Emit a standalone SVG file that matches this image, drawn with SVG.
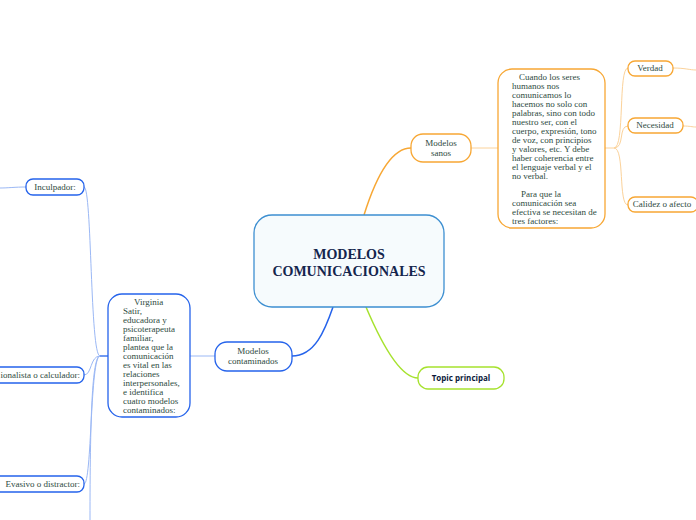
<svg xmlns="http://www.w3.org/2000/svg" width="696" height="520" viewBox="0 0 696 520">
<style>
text{font-family:"Liberation Serif",serif;font-size:9px;fill:#2d4a3e}
.o{fill:#fff;stroke:#f7a734;stroke-width:1.3}
.b{fill:#fff;stroke:#2563eb;stroke-width:1.3}
.lo{fill:none;stroke:#fbd29a;stroke-width:1}
.lb{fill:none;stroke:#9bb8f5;stroke-width:1}
</style>
<rect width="696" height="520" fill="#fff"/>
<g id="connectors">
<path d="M364,215 C375,180 390,148 411,148" fill="none" stroke="#f7a734" stroke-width="1.5"/>
<path d="M333,307 C325,330 315,356 292,356" fill="none" stroke="#2563eb" stroke-width="1.5"/>
<path d="M366,307 C380,340 400,378 418,378" fill="none" stroke="#a6e22e" stroke-width="1.5"/>
<path class="lo" d="M471,148 L498,148"/>
<path class="lo" d="M605,148 L614,148 C625,148 618,68 628,68"/>
<path class="lo" d="M614,148 C625,148 618,126 628,126"/>
<path class="lo" d="M614,148 C625,148 618,205 628,205"/>
<path class="lo" d="M673,68 C685,68 690,70 696,70"/>
<path class="lo" d="M683,126 C690,126 692,127 696,127"/>
<path class="lb" d="M215,356 L190,356"/>
<path class="b" style="fill:none" d="M108,356 L100,356"/>
<path class="lb" d="M100,356 C90,356 92,187 84,187"/>
<path class="lb" d="M100,356 C90,356 92,375 84,375"/>
<path class="lb" d="M100,356 C90,356 92,484 84,484"/>
<path class="lb" d="M100,356 C92,356 90,420 90,520"/>
<path class="lb" d="M26,187 C15,187 8,188 0,188"/>
</g>
<g id="central">
<rect x="254" y="215" width="190" height="92" rx="18" fill="#f6fbfd" stroke="#3d8fd1" stroke-width="1.3"/>
<text x="349" y="259" text-anchor="middle" style="font-size:14px;font-weight:bold;fill:#14254d">MODELOS</text>
<text x="349" y="276" text-anchor="middle" style="font-size:14px;font-weight:bold;fill:#14254d">COMUNICACIONALES</text>
</g>
<g id="sanos">
<rect class="o" x="411" y="134" width="60" height="28" rx="12"/>
<text x="441" y="146" text-anchor="middle">Modelos</text>
<text x="441" y="156" text-anchor="middle">sanos</text>
</g>
<g id="sanos-text">
<rect class="o" x="498" y="69" width="107" height="159" rx="14"/>
<text x="512" y="80">
<tspan x="519">Cuando los seres</tspan>
<tspan x="512" dy="9">humanos nos</tspan>
<tspan x="512" dy="9">comunicamos lo</tspan>
<tspan x="512" dy="9">hacemos no solo con</tspan>
<tspan x="512" dy="9">palabras, sino con todo</tspan>
<tspan x="512" dy="9">nuestro ser, con el</tspan>
<tspan x="512" dy="9">cuerpo, expresión, tono</tspan>
<tspan x="512" dy="9">de voz, con principios</tspan>
<tspan x="512" dy="9">y valores, etc. Y debe</tspan>
<tspan x="512" dy="9">haber coherencia entre</tspan>
<tspan x="512" dy="9">el lenguaje verbal y el</tspan>
<tspan x="512" dy="9">no verbal.</tspan>
<tspan x="521" dy="18">Para que la</tspan>
<tspan x="512" dy="9">comunicación sea</tspan>
<tspan x="512" dy="9">efectiva se necesitan de</tspan>
<tspan x="512" dy="9">tres factores:</tspan>
</text>
</g>
<g id="verdad"><rect class="o" x="628" y="61" width="45" height="15" rx="7"/><text x="650" y="71" text-anchor="middle">Verdad</text></g>
<g id="necesidad"><rect class="o" x="628" y="118" width="55" height="15" rx="7"/><text x="655" y="128" text-anchor="middle">Necesidad</text></g>
<g id="calidez"><rect class="o" x="628" y="197" width="70" height="15" rx="7"/><text x="662" y="207" text-anchor="middle">Calidez o afecto</text></g>
<g id="contaminados">
<rect class="b" x="215" y="342" width="77" height="29" rx="12"/>
<text x="253" y="354" text-anchor="middle">Modelos</text>
<text x="253" y="364" text-anchor="middle">contaminados</text>
</g>
<g id="virginia">
<rect class="b" x="108" y="294" width="82" height="123" rx="14"/>
<text x="123" y="305">
<tspan x="134">Virginia</tspan>
<tspan x="123" dy="9">Satir,</tspan>
<tspan x="123" dy="9">educadora y</tspan>
<tspan x="123" dy="9">psicoterapeuta</tspan>
<tspan x="123" dy="9">familiar,</tspan>
<tspan x="123" dy="9">plantea que la</tspan>
<tspan x="123" dy="9">comunicación</tspan>
<tspan x="123" dy="9">es vital en las</tspan>
<tspan x="123" dy="9">relaciones</tspan>
<tspan x="123" dy="9">interpersonales,</tspan>
<tspan x="123" dy="9">e identifica</tspan>
<tspan x="123" dy="9">cuatro modelos</tspan>
<tspan x="123" dy="9">contaminados:</tspan>
</text>
</g>
<g id="inculpador"><rect class="b" x="26" y="179" width="58" height="16" rx="7"/><text x="55" y="190" text-anchor="middle">Inculpador:</text></g>
<g id="calculador"><rect class="b" x="-12" y="367" width="96" height="16" rx="7"/><text x="80" y="378" text-anchor="end">ionalista o calculador:</text></g>
<g id="evasivo"><rect class="b" x="-8" y="476" width="92" height="16" rx="7"/><text x="80" y="487" text-anchor="end">Evasivo o distractor:</text></g>
<g id="topic">
<rect x="418" y="367" width="86" height="22" rx="10" fill="#fff" stroke="#a6e22e" stroke-width="1.3"/>
<text x="461" y="381" text-anchor="middle" style="font-family:'Open Sans','Liberation Sans',sans-serif;font-weight:bold;font-size:8px;fill:#0b1a3a">Topic principal</text>
</g>
</svg>
